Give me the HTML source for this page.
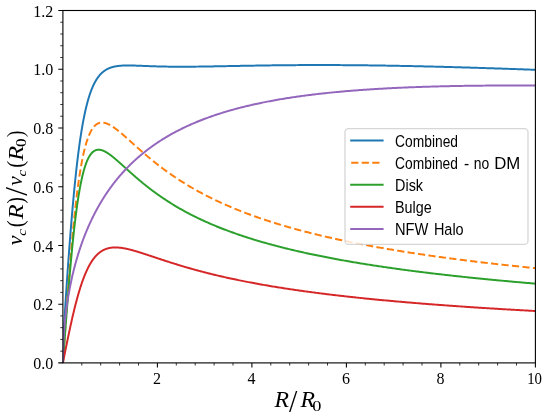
<!DOCTYPE html><html><head><meta charset="utf-8"><style>html,body{margin:0;padding:0;background:#fff;overflow:hidden}svg{display:block}</style></head><body><svg width="550" height="418" viewBox="0 0 550 418">
<rect width="550" height="418" fill="#fff"/>
<defs><clipPath id="c"><rect x="62.9" y="10.5" width="472.5" height="352.4"/></clipPath></defs>
<g clip-path="url(#c)" fill="none" stroke-width="1.98" stroke-linecap="square" stroke-linejoin="round">
<polyline points="62.90,362.89 62.90,360.90 62.97,355.40 63.03,352.41 63.09,350.05 63.15,348.00 63.21,346.16 63.27,344.46 63.33,342.87 63.39,341.36 63.45,339.92 63.51,338.53 63.57,337.19 63.63,335.89 63.69,334.62 63.75,333.38 63.81,332.16 63.87,330.97 63.93,329.80 63.99,328.65 64.05,327.52 64.11,326.40 64.17,325.29 64.23,324.20 64.30,323.11 64.36,322.04 64.42,320.98 64.48,319.93 64.54,318.89 64.60,317.85 64.66,316.82 64.72,315.80 64.78,314.79 64.84,313.78 64.90,312.78 64.96,311.79 65.02,310.79 65.08,309.81 65.14,308.83 65.20,307.85 65.26,306.88 65.49,303.21 65.72,299.60 65.96,296.04 66.19,292.51 66.42,289.03 66.65,285.59 66.88,282.18 67.11,278.81 67.34,275.46 67.57,272.15 67.80,268.88 68.03,265.63 68.26,262.41 68.50,259.22 68.73,256.06 68.96,252.94 69.19,249.84 69.42,246.77 69.65,243.74 69.88,240.73 70.11,237.76 70.34,234.81 70.57,231.90 70.80,229.02 71.04,226.17 71.27,223.36 71.50,220.57 71.73,217.82 71.96,215.10 72.19,212.41 72.42,209.76 72.65,207.13 72.88,204.54 73.11,201.99 73.34,199.47 73.58,196.98 73.81,194.52 74.04,192.10 74.27,189.71 74.50,187.35 74.73,185.03 74.96,182.74 75.19,180.49 75.42,178.26 75.65,176.07 75.88,173.92 76.12,171.79 76.35,169.70 76.58,167.64 76.81,165.61 77.04,163.62 77.27,161.65 77.50,159.72 77.73,157.82 77.96,155.95 78.19,154.11 78.42,152.31 78.66,150.53 78.89,148.78 79.12,147.06 79.35,145.38 79.58,143.72 79.81,142.09 80.04,140.49 80.27,138.91 80.50,137.37 80.73,135.85 80.97,134.36 81.20,132.90 81.43,131.46 81.66,130.05 81.89,128.67 82.12,127.31 82.35,125.98 82.58,124.67 82.81,123.38 83.04,122.13 83.27,120.89 83.51,119.68 83.74,118.49 83.97,117.32 84.20,116.18 84.43,115.06 84.66,113.96 84.89,112.88 85.12,111.82 85.35,110.79 85.58,109.77 85.81,108.78 86.05,107.80 86.28,106.84 86.51,105.91 86.74,104.99 86.97,104.09 87.20,103.21 87.43,102.34 87.66,101.50 87.89,100.67 88.12,99.86 88.35,99.06 88.59,98.28 88.82,97.52 89.05,96.77 89.28,96.04 89.51,95.32 89.74,94.62 89.97,93.93 90.20,93.26 90.43,92.60 90.66,91.96 90.89,91.32 91.13,90.71 91.36,90.10 91.59,89.51 91.82,88.93 92.05,88.36 92.28,87.81 92.51,87.26 92.74,86.73 92.97,86.21 93.20,85.70 93.43,85.20 93.67,84.72 93.90,84.24 94.13,83.77 94.36,83.32 94.59,82.87 94.82,82.44 95.05,82.01 95.28,81.59 95.51,81.18 95.74,80.78 95.97,80.39 96.21,80.01 96.44,79.64 96.67,79.27 96.90,78.92 97.13,78.57 97.36,78.22 97.59,77.89 97.82,77.57 98.05,77.25 98.28,76.94 98.52,76.63 98.75,76.33 98.98,76.04 99.21,75.76 99.44,75.48 99.67,75.21 99.90,74.94 100.13,74.69 100.36,74.43 100.59,74.19 100.82,73.94 101.06,73.71 101.29,73.48 101.52,73.25 101.75,73.03 101.98,72.82 102.21,72.61 102.44,72.41 102.67,72.21 102.90,72.01 103.13,71.82 103.36,71.64 103.60,71.45 103.83,71.28 104.06,71.11 104.29,70.94 104.52,70.77 104.75,70.61 104.98,70.46 105.21,70.30 105.44,70.16 105.67,70.01 105.90,69.87 106.14,69.73 106.37,69.60 106.60,69.47 106.83,69.34 107.06,69.21 107.29,69.09 107.52,68.98 107.75,68.86 107.98,68.75 108.21,68.64 108.44,68.53 108.68,68.43 108.91,68.33 109.14,68.23 109.37,68.13 109.60,68.04 109.83,67.95 110.06,67.86 110.29,67.78 110.52,67.69 110.75,67.61 110.98,67.53 111.22,67.46 111.45,67.38 111.68,67.31 111.91,67.24 112.14,67.17 112.37,67.11 112.60,67.04 112.83,66.98 113.06,66.92 113.29,66.86 113.53,66.80 113.76,66.75 113.99,66.69 114.22,66.64 114.45,66.59 114.68,66.54 114.91,66.50 115.14,66.45 115.37,66.40 115.60,66.36 115.83,66.32 116.07,66.28 116.30,66.24 116.53,66.20 116.76,66.17 116.99,66.13 117.22,66.10 117.45,66.07 117.68,66.03 117.91,66.00 118.14,65.98 118.37,65.95 118.61,65.92 118.84,65.89 119.07,65.87 119.30,65.85 119.53,65.82 119.76,65.80 119.99,65.78 120.22,65.76 120.45,65.74 120.68,65.72 120.91,65.70 121.15,65.69 121.38,65.67 121.61,65.65 121.84,65.64 122.07,65.63 122.30,65.61 122.53,65.60 122.76,65.59 122.99,65.58 123.22,65.57 123.45,65.56 123.69,65.55 123.92,65.54 124.15,65.53 124.38,65.52 124.61,65.52 124.84,65.51 125.07,65.51 125.30,65.50 125.53,65.50 125.76,65.49 125.99,65.49 126.23,65.48 126.46,65.48 126.69,65.48 126.92,65.48 127.15,65.48 127.38,65.47 127.61,65.47 127.84,65.47 128.07,65.47 128.30,65.47 128.53,65.47 128.77,65.48 129.00,65.48 129.23,65.48 129.46,65.48 129.69,65.48 129.92,65.48 130.15,65.49 130.38,65.49 130.61,65.49 130.84,65.50 131.08,65.50 131.31,65.51 131.54,65.51 131.77,65.51 132.00,65.52 132.23,65.52 132.46,65.53 132.69,65.54 132.92,65.54 133.15,65.55 133.38,65.55 133.62,65.56 133.85,65.57 134.08,65.57 134.31,65.58 134.54,65.59 134.77,65.59 135.00,65.60 135.23,65.61 135.46,65.61 135.69,65.62 135.92,65.63 136.16,65.64 136.39,65.64 136.62,65.65 136.85,65.66 137.08,65.67 137.31,65.68 137.54,65.68 137.77,65.69 138.00,65.70 138.23,65.71 138.46,65.72 138.70,65.73 138.93,65.74 139.16,65.74 139.39,65.75 139.62,65.76 139.85,65.77 140.08,65.78 140.31,65.79 140.54,65.80 140.77,65.81 141.00,65.82 141.24,65.82 141.47,65.83 141.70,65.84 141.93,65.85 142.16,65.86 142.39,65.87 142.62,65.88 142.85,65.89 143.08,65.90 143.31,65.91 143.54,65.92 143.78,65.93 144.01,65.93 144.24,65.94 144.47,65.95 144.70,65.96 144.93,65.97 145.16,65.98 145.39,65.99 145.62,66.00 145.85,66.01 146.08,66.02 146.32,66.03 146.55,66.03 146.78,66.04 147.01,66.05 147.24,66.06 147.47,66.07 147.70,66.08 147.93,66.09 148.16,66.10 148.39,66.10 148.62,66.11 148.86,66.12 149.09,66.13 149.32,66.14 149.55,66.15 149.78,66.16 150.01,66.16 150.24,66.17 150.47,66.18 150.70,66.19 150.93,66.20 151.17,66.21 151.40,66.21 151.63,66.22 151.86,66.23 152.09,66.24 152.32,66.25 152.55,66.25 152.78,66.26 153.01,66.27 153.24,66.28 153.47,66.28 153.71,66.29 153.94,66.30 154.17,66.31 154.40,66.31 154.63,66.32 154.86,66.33 155.09,66.34 155.32,66.34 155.55,66.35 155.78,66.36 156.01,66.36 156.25,66.37 156.48,66.38 156.71,66.38 156.94,66.39 157.17,66.40 157.40,66.40 158.66,66.44 159.93,66.47 161.19,66.50 162.46,66.53 163.72,66.56 164.99,66.58 166.25,66.60 167.51,66.62 168.78,66.64 170.04,66.66 171.31,66.67 172.57,66.69 173.83,66.70 175.10,66.71 176.36,66.71 177.63,66.72 178.89,66.72 180.16,66.72 181.42,66.72 182.68,66.72 183.95,66.72 185.21,66.72 186.48,66.71 187.74,66.71 189.01,66.70 190.27,66.69 191.53,66.68 192.80,66.67 194.06,66.66 195.33,66.64 196.59,66.63 197.85,66.62 199.12,66.60 200.38,66.58 201.65,66.57 202.91,66.55 204.18,66.53 205.44,66.51 206.70,66.49 207.97,66.47 209.23,66.45 210.50,66.43 211.76,66.41 213.03,66.39 214.29,66.36 215.55,66.34 216.82,66.32 218.08,66.30 219.35,66.27 220.61,66.25 221.87,66.22 223.14,66.20 224.40,66.18 225.67,66.15 226.93,66.13 228.20,66.10 229.46,66.08 230.72,66.05 231.99,66.03 233.25,66.01 234.52,65.98 235.78,65.96 237.05,65.93 238.31,65.91 239.57,65.89 240.84,65.86 242.10,65.84 243.37,65.82 244.63,65.79 245.89,65.77 247.16,65.75 248.42,65.73 249.69,65.70 250.95,65.68 252.22,65.66 253.48,65.64 254.74,65.62 256.01,65.60 257.27,65.58 258.54,65.56 259.80,65.54 261.07,65.52 262.33,65.50 263.59,65.48 264.86,65.46 266.12,65.44 267.39,65.42 268.65,65.41 269.92,65.39 271.18,65.37 272.44,65.36 273.71,65.34 274.97,65.33 276.24,65.31 277.50,65.30 278.76,65.28 280.03,65.27 281.29,65.25 282.56,65.24 283.82,65.23 285.09,65.22 286.35,65.21 287.61,65.19 288.88,65.18 290.14,65.17 291.41,65.16 292.67,65.15 293.94,65.14 295.20,65.14 296.46,65.13 297.73,65.12 298.99,65.11 300.26,65.11 301.52,65.10 302.78,65.09 304.05,65.09 305.31,65.08 306.58,65.08 307.84,65.07 309.11,65.07 310.37,65.07 311.63,65.07 312.90,65.06 314.16,65.06 315.43,65.06 316.69,65.06 317.96,65.06 319.22,65.06 320.48,65.06 321.75,65.06 323.01,65.06 324.28,65.06 325.54,65.06 326.80,65.07 328.07,65.07 329.33,65.07 330.60,65.08 331.86,65.08 333.13,65.08 334.39,65.09 335.65,65.09 336.92,65.10 338.18,65.11 339.45,65.11 340.71,65.12 341.98,65.13 343.24,65.14 344.50,65.14 345.77,65.15 347.03,65.16 348.30,65.17 349.56,65.18 350.82,65.19 352.09,65.20 353.35,65.21 354.62,65.22 355.88,65.24 357.15,65.25 358.41,65.26 359.67,65.27 360.94,65.29 362.20,65.30 363.47,65.32 364.73,65.33 366.00,65.34 367.26,65.36 368.52,65.38 369.79,65.39 371.05,65.41 372.32,65.42 373.58,65.44 374.84,65.46 376.11,65.48 377.37,65.49 378.64,65.51 379.90,65.53 381.17,65.55 382.43,65.57 383.69,65.59 384.96,65.61 386.22,65.63 387.49,65.65 388.75,65.67 390.02,65.69 391.28,65.72 392.54,65.74 393.81,65.76 395.07,65.78 396.34,65.81 397.60,65.83 398.86,65.85 400.13,65.88 401.39,65.90 402.66,65.93 403.92,65.95 405.19,65.98 406.45,66.00 407.71,66.03 408.98,66.05 410.24,66.08 411.51,66.11 412.77,66.13 414.04,66.16 415.30,66.19 416.56,66.22 417.83,66.24 419.09,66.27 420.36,66.30 421.62,66.33 422.88,66.36 424.15,66.39 425.41,66.42 426.68,66.45 427.94,66.48 429.21,66.51 430.47,66.54 431.73,66.57 433.00,66.60 434.26,66.63 435.53,66.67 436.79,66.70 438.06,66.73 439.32,66.76 440.58,66.80 441.85,66.83 443.11,66.86 444.38,66.89 445.64,66.93 446.91,66.96 448.17,67.00 449.43,67.03 450.70,67.07 451.96,67.10 453.23,67.13 454.49,67.17 455.75,67.21 457.02,67.24 458.28,67.28 459.55,67.31 460.81,67.35 462.08,67.39 463.34,67.42 464.60,67.46 465.87,67.50 467.13,67.53 468.40,67.57 469.66,67.61 470.93,67.65 472.19,67.69 473.45,67.72 474.72,67.76 475.98,67.80 477.25,67.84 478.51,67.88 479.77,67.92 481.04,67.96 482.30,68.00 483.57,68.04 484.83,68.08 486.10,68.12 487.36,68.16 488.62,68.20 489.89,68.24 491.15,68.28 492.42,68.32 493.68,68.36 494.95,68.40 496.21,68.44 497.47,68.49 498.74,68.53 500.00,68.57 501.27,68.61 502.53,68.65 503.79,68.70 505.06,68.74 506.32,68.78 507.59,68.82 508.85,68.87 510.12,68.91 511.38,68.95 512.64,69.00 513.91,69.04 515.17,69.08 516.44,69.13 517.70,69.17 518.97,69.22 520.23,69.26 521.49,69.31 522.76,69.35 524.02,69.39 525.29,69.44 526.55,69.48 527.81,69.53 529.08,69.58 530.34,69.62 531.61,69.67 532.87,69.71 534.14,69.76 535.40,69.80" stroke="#1f77b4"/>
<polyline points="62.90,362.90 62.90,362.83 62.97,361.95 63.03,361.08 63.09,360.20 63.15,359.32 63.21,358.45 63.27,357.57 63.33,356.69 63.39,355.82 63.45,354.94 63.51,354.07 63.57,353.19 63.63,352.31 63.69,351.44 63.75,350.56 63.81,349.69 63.87,348.82 63.93,347.94 63.99,347.07 64.05,346.19 64.11,345.32 64.17,344.45 64.23,343.58 64.30,342.71 64.36,341.83 64.42,340.96 64.48,340.09 64.54,339.22 64.60,338.36 64.66,337.49 64.72,336.62 64.78,335.75 64.84,334.89 64.90,334.02 64.96,333.15 65.02,332.29 65.08,331.43 65.14,330.56 65.20,329.70 65.26,328.84 65.49,325.56 65.72,322.29 65.96,319.03 66.19,315.79 66.42,312.57 66.65,309.36 66.88,306.17 67.11,303.00 67.34,299.85 67.57,296.72 67.80,293.61 68.03,290.52 68.26,287.46 68.50,284.42 68.73,281.41 68.96,278.42 69.19,275.46 69.42,272.52 69.65,269.62 69.88,266.74 70.11,263.89 70.34,261.07 70.57,258.28 70.80,255.52 71.04,252.79 71.27,250.09 71.50,247.43 71.73,244.79 71.96,242.19 72.19,239.62 72.42,237.09 72.65,234.58 72.88,232.11 73.11,229.68 73.34,227.28 73.58,224.91 73.81,222.57 74.04,220.28 74.27,218.01 74.50,215.78 74.73,213.58 74.96,211.42 75.19,209.29 75.42,207.19 75.65,205.13 75.88,203.11 76.12,201.11 76.35,199.15 76.58,197.23 76.81,195.34 77.04,193.48 77.27,191.65 77.50,189.86 77.73,188.10 77.96,186.37 78.19,184.67 78.42,183.01 78.66,181.38 78.89,179.77 79.12,178.20 79.35,176.66 79.58,175.15 79.81,173.67 80.04,172.22 80.27,170.80 80.50,169.41 80.73,168.05 80.97,166.72 81.20,165.41 81.43,164.13 81.66,162.88 81.89,161.66 82.12,160.46 82.35,159.29 82.58,158.15 82.81,157.03 83.04,155.93 83.27,154.86 83.51,153.82 83.74,152.80 83.97,151.80 84.20,150.83 84.43,149.88 84.66,148.95 84.89,148.05 85.12,147.17 85.35,146.30 85.58,145.46 85.81,144.65 86.05,143.85 86.28,143.07 86.51,142.31 86.74,141.57 86.97,140.86 87.20,140.16 87.43,139.47 87.66,138.81 87.89,138.17 88.12,137.54 88.35,136.93 88.59,136.34 88.82,135.76 89.05,135.20 89.28,134.66 89.51,134.13 89.74,133.62 89.97,133.12 90.20,132.64 90.43,132.17 90.66,131.72 90.89,131.28 91.13,130.86 91.36,130.45 91.59,130.05 91.82,129.67 92.05,129.29 92.28,128.94 92.51,128.59 92.74,128.26 92.97,127.93 93.20,127.62 93.43,127.32 93.67,127.04 93.90,126.76 94.13,126.49 94.36,126.24 94.59,125.99 94.82,125.76 95.05,125.53 95.28,125.32 95.51,125.11 95.74,124.92 95.97,124.73 96.21,124.55 96.44,124.39 96.67,124.23 96.90,124.07 97.13,123.93 97.36,123.80 97.59,123.67 97.82,123.55 98.05,123.44 98.28,123.33 98.52,123.24 98.75,123.15 98.98,123.07 99.21,122.99 99.44,122.92 99.67,122.86 99.90,122.80 100.13,122.76 100.36,122.71 100.59,122.68 100.82,122.64 101.06,122.62 101.29,122.60 101.52,122.59 101.75,122.58 101.98,122.58 102.21,122.58 102.44,122.58 102.67,122.60 102.90,122.61 103.13,122.64 103.36,122.66 103.60,122.70 103.83,122.73 104.06,122.77 104.29,122.82 104.52,122.87 104.75,122.92 104.98,122.98 105.21,123.04 105.44,123.10 105.67,123.17 105.90,123.24 106.14,123.32 106.37,123.40 106.60,123.48 106.83,123.57 107.06,123.66 107.29,123.75 107.52,123.85 107.75,123.95 107.98,124.05 108.21,124.16 108.44,124.27 108.68,124.38 108.91,124.49 109.14,124.61 109.37,124.73 109.60,124.85 109.83,124.97 110.06,125.10 110.29,125.23 110.52,125.36 110.75,125.49 110.98,125.63 111.22,125.77 111.45,125.91 111.68,126.05 111.91,126.20 112.14,126.34 112.37,126.49 112.60,126.64 112.83,126.79 113.06,126.95 113.29,127.10 113.53,127.26 113.76,127.42 113.99,127.58 114.22,127.74 114.45,127.91 114.68,128.07 114.91,128.24 115.14,128.41 115.37,128.58 115.60,128.75 115.83,128.92 116.07,129.09 116.30,129.27 116.53,129.44 116.76,129.62 116.99,129.80 117.22,129.98 117.45,130.16 117.68,130.34 117.91,130.52 118.14,130.71 118.37,130.89 118.61,131.08 118.84,131.27 119.07,131.45 119.30,131.64 119.53,131.83 119.76,132.02 119.99,132.21 120.22,132.40 120.45,132.59 120.68,132.79 120.91,132.98 121.15,133.18 121.38,133.37 121.61,133.57 121.84,133.76 122.07,133.96 122.30,134.16 122.53,134.35 122.76,134.55 122.99,134.75 123.22,134.95 123.45,135.15 123.69,135.35 123.92,135.55 124.15,135.75 124.38,135.96 124.61,136.16 124.84,136.36 125.07,136.56 125.30,136.77 125.53,136.97 125.76,137.17 125.99,137.38 126.23,137.58 126.46,137.79 126.69,137.99 126.92,138.19 127.15,138.40 127.38,138.61 127.61,138.81 127.84,139.02 128.07,139.22 128.30,139.43 128.53,139.64 128.77,139.84 129.00,140.05 129.23,140.26 129.46,140.46 129.69,140.67 129.92,140.88 130.15,141.08 130.38,141.29 130.61,141.50 130.84,141.70 131.08,141.91 131.31,142.12 131.54,142.33 131.77,142.53 132.00,142.74 132.23,142.95 132.46,143.15 132.69,143.36 132.92,143.57 133.15,143.78 133.38,143.98 133.62,144.19 133.85,144.40 134.08,144.60 134.31,144.81 134.54,145.02 134.77,145.22 135.00,145.43 135.23,145.64 135.46,145.84 135.69,146.05 135.92,146.26 136.16,146.46 136.39,146.67 136.62,146.87 136.85,147.08 137.08,147.28 137.31,147.49 137.54,147.69 137.77,147.90 138.00,148.10 138.23,148.31 138.46,148.51 138.70,148.72 138.93,148.92 139.16,149.12 139.39,149.33 139.62,149.53 139.85,149.73 140.08,149.94 140.31,150.14 140.54,150.34 140.77,150.55 141.00,150.75 141.24,150.95 141.47,151.15 141.70,151.35 141.93,151.55 142.16,151.75 142.39,151.96 142.62,152.16 142.85,152.36 143.08,152.56 143.31,152.76 143.54,152.95 143.78,153.15 144.01,153.35 144.24,153.55 144.47,153.75 144.70,153.95 144.93,154.15 145.16,154.34 145.39,154.54 145.62,154.74 145.85,154.93 146.08,155.13 146.32,155.33 146.55,155.52 146.78,155.72 147.01,155.91 147.24,156.11 147.47,156.30 147.70,156.50 147.93,156.69 148.16,156.88 148.39,157.08 148.62,157.27 148.86,157.46 149.09,157.66 149.32,157.85 149.55,158.04 149.78,158.23 150.01,158.42 150.24,158.61 150.47,158.80 150.70,158.99 150.93,159.18 151.17,159.37 151.40,159.56 151.63,159.75 151.86,159.94 152.09,160.13 152.32,160.32 152.55,160.50 152.78,160.69 153.01,160.88 153.24,161.07 153.47,161.25 153.71,161.44 153.94,161.62 154.17,161.81 154.40,161.99 154.63,162.18 154.86,162.36 155.09,162.55 155.32,162.73 155.55,162.91 155.78,163.10 156.01,163.28 156.25,163.46 156.48,163.65 156.71,163.83 156.94,164.01 157.17,164.19 157.40,164.37 158.66,165.35 159.93,166.33 161.19,167.29 162.46,168.24 163.72,169.19 164.99,170.12 166.25,171.04 167.51,171.96 168.78,172.86 170.04,173.75 171.31,174.64 172.57,175.51 173.83,176.37 175.10,177.23 176.36,178.07 177.63,178.91 178.89,179.74 180.16,180.55 181.42,181.36 182.68,182.16 183.95,182.95 185.21,183.73 186.48,184.51 187.74,185.27 189.01,186.03 190.27,186.78 191.53,187.52 192.80,188.25 194.06,188.98 195.33,189.69 196.59,190.40 197.85,191.10 199.12,191.80 200.38,192.48 201.65,193.16 202.91,193.84 204.18,194.50 205.44,195.16 206.70,195.81 207.97,196.45 209.23,197.09 210.50,197.72 211.76,198.35 213.03,198.97 214.29,199.58 215.55,200.18 216.82,200.78 218.08,201.38 219.35,201.97 220.61,202.55 221.87,203.12 223.14,203.69 224.40,204.26 225.67,204.82 226.93,205.37 228.20,205.92 229.46,206.46 230.72,207.00 231.99,207.54 233.25,208.06 234.52,208.59 235.78,209.10 237.05,209.62 238.31,210.13 239.57,210.63 240.84,211.13 242.10,211.62 243.37,212.11 244.63,212.60 245.89,213.08 247.16,213.56 248.42,214.03 249.69,214.50 250.95,214.96 252.22,215.42 253.48,215.88 254.74,216.33 256.01,216.78 257.27,217.22 258.54,217.66 259.80,218.10 261.07,218.53 262.33,218.96 263.59,219.39 264.86,219.81 266.12,220.23 267.39,220.64 268.65,221.06 269.92,221.46 271.18,221.87 272.44,222.27 273.71,222.67 274.97,223.06 276.24,223.46 277.50,223.85 278.76,224.23 280.03,224.61 281.29,224.99 282.56,225.37 283.82,225.74 285.09,226.11 286.35,226.48 287.61,226.85 288.88,227.21 290.14,227.57 291.41,227.93 292.67,228.28 293.94,228.63 295.20,228.98 296.46,229.33 297.73,229.67 298.99,230.01 300.26,230.35 301.52,230.68 302.78,231.02 304.05,231.35 305.31,231.68 306.58,232.00 307.84,232.33 309.11,232.65 310.37,232.97 311.63,233.29 312.90,233.60 314.16,233.91 315.43,234.22 316.69,234.53 317.96,234.84 319.22,235.14 320.48,235.44 321.75,235.74 323.01,236.04 324.28,236.34 325.54,236.63 326.80,236.92 328.07,237.21 329.33,237.50 330.60,237.79 331.86,238.07 333.13,238.35 334.39,238.63 335.65,238.91 336.92,239.19 338.18,239.46 339.45,239.74 340.71,240.01 341.98,240.28 343.24,240.54 344.50,240.81 345.77,241.07 347.03,241.34 348.30,241.60 349.56,241.86 350.82,242.12 352.09,242.37 353.35,242.63 354.62,242.88 355.88,243.13 357.15,243.38 358.41,243.63 359.67,243.88 360.94,244.12 362.20,244.37 363.47,244.61 364.73,244.85 366.00,245.09 367.26,245.33 368.52,245.56 369.79,245.80 371.05,246.03 372.32,246.27 373.58,246.50 374.84,246.73 376.11,246.96 377.37,247.18 378.64,247.41 379.90,247.63 381.17,247.86 382.43,248.08 383.69,248.30 384.96,248.52 386.22,248.74 387.49,248.96 388.75,249.17 390.02,249.39 391.28,249.60 392.54,249.81 393.81,250.02 395.07,250.23 396.34,250.44 397.60,250.65 398.86,250.86 400.13,251.06 401.39,251.27 402.66,251.47 403.92,251.67 405.19,251.87 406.45,252.07 407.71,252.27 408.98,252.47 410.24,252.67 411.51,252.86 412.77,253.06 414.04,253.25 415.30,253.44 416.56,253.64 417.83,253.83 419.09,254.02 420.36,254.21 421.62,254.39 422.88,254.58 424.15,254.77 425.41,254.95 426.68,255.13 427.94,255.32 429.21,255.50 430.47,255.68 431.73,255.86 433.00,256.04 434.26,256.22 435.53,256.40 436.79,256.58 438.06,256.75 439.32,256.93 440.58,257.10 441.85,257.27 443.11,257.45 444.38,257.62 445.64,257.79 446.91,257.96 448.17,258.13 449.43,258.30 450.70,258.47 451.96,258.63 453.23,258.80 454.49,258.96 455.75,259.13 457.02,259.29 458.28,259.46 459.55,259.62 460.81,259.78 462.08,259.94 463.34,260.10 464.60,260.26 465.87,260.42 467.13,260.58 468.40,260.73 469.66,260.89 470.93,261.04 472.19,261.20 473.45,261.35 474.72,261.51 475.98,261.66 477.25,261.81 478.51,261.96 479.77,262.12 481.04,262.27 482.30,262.42 483.57,262.56 484.83,262.71 486.10,262.86 487.36,263.01 488.62,263.15 489.89,263.30 491.15,263.44 492.42,263.59 493.68,263.73 494.95,263.88 496.21,264.02 497.47,264.16 498.74,264.30 500.00,264.44 501.27,264.58 502.53,264.72 503.79,264.86 505.06,265.00 506.32,265.14 507.59,265.27 508.85,265.41 510.12,265.55 511.38,265.68 512.64,265.82 513.91,265.95 515.17,266.09 516.44,266.22 517.70,266.35 518.97,266.48 520.23,266.62 521.49,266.75 522.76,266.88 524.02,267.01 525.29,267.14 526.55,267.27 527.81,267.40 529.08,267.52 530.34,267.65 531.61,267.78 532.87,267.90 534.14,268.03 535.40,268.16" stroke="#ff7f0e" stroke-dasharray="7.2,3.325" stroke-dashoffset="2.325" stroke-linecap="butt"/>
<polyline points="62.90,362.90 62.90,362.84 62.97,362.01 63.03,361.19 63.09,360.37 63.15,359.54 63.21,358.72 63.27,357.90 63.33,357.08 63.39,356.26 63.45,355.43 63.51,354.61 63.57,353.79 63.63,352.97 63.69,352.15 63.75,351.33 63.81,350.51 63.87,349.69 63.93,348.87 63.99,348.05 64.05,347.23 64.11,346.41 64.17,345.59 64.23,344.77 64.30,343.96 64.36,343.14 64.42,342.32 64.48,341.51 64.54,340.69 64.60,339.88 64.66,339.06 64.72,338.25 64.78,337.44 64.84,336.62 64.90,335.81 64.96,335.00 65.02,334.19 65.08,333.38 65.14,332.57 65.20,331.77 65.26,330.96 65.49,327.88 65.72,324.82 65.96,321.77 66.19,318.74 66.42,315.72 66.65,312.72 66.88,309.74 67.11,306.77 67.34,303.83 67.57,300.91 67.80,298.01 68.03,295.13 68.26,292.27 68.50,289.44 68.73,286.64 68.96,283.85 69.19,281.10 69.42,278.37 69.65,275.67 69.88,273.00 70.11,270.36 70.34,267.75 70.57,265.16 70.80,262.61 71.04,260.09 71.27,257.60 71.50,255.14 71.73,252.71 71.96,250.32 72.19,247.95 72.42,245.62 72.65,243.33 72.88,241.06 73.11,238.83 73.34,236.64 73.58,234.47 73.81,232.34 74.04,230.25 74.27,228.19 74.50,226.16 74.73,224.17 74.96,222.21 75.19,220.28 75.42,218.39 75.65,216.53 75.88,214.70 76.12,212.91 76.35,211.15 76.58,209.43 76.81,207.73 77.04,206.07 77.27,204.45 77.50,202.85 77.73,201.29 77.96,199.75 78.19,198.25 78.42,196.78 78.66,195.34 78.89,193.94 79.12,192.56 79.35,191.21 79.58,189.89 79.81,188.60 80.04,187.34 80.27,186.11 80.50,184.91 80.73,183.73 80.97,182.58 81.20,181.46 81.43,180.37 81.66,179.30 81.89,178.26 82.12,177.24 82.35,176.25 82.58,175.29 82.81,174.35 83.04,173.43 83.27,172.54 83.51,171.67 83.74,170.82 83.97,170.00 84.20,169.19 84.43,168.41 84.66,167.66 84.89,166.92 85.12,166.20 85.35,165.51 85.58,164.83 85.81,164.18 86.05,163.54 86.28,162.92 86.51,162.32 86.74,161.74 86.97,161.18 87.20,160.64 87.43,160.11 87.66,159.60 87.89,159.11 88.12,158.63 88.35,158.17 88.59,157.72 88.82,157.29 89.05,156.88 89.28,156.48 89.51,156.09 89.74,155.72 89.97,155.36 90.20,155.02 90.43,154.69 90.66,154.37 90.89,154.07 91.13,153.78 91.36,153.50 91.59,153.23 91.82,152.98 92.05,152.73 92.28,152.50 92.51,152.28 92.74,152.07 92.97,151.87 93.20,151.68 93.43,151.50 93.67,151.33 93.90,151.17 94.13,151.02 94.36,150.88 94.59,150.75 94.82,150.62 95.05,150.51 95.28,150.40 95.51,150.30 95.74,150.21 95.97,150.13 96.21,150.06 96.44,149.99 96.67,149.93 96.90,149.88 97.13,149.84 97.36,149.80 97.59,149.77 97.82,149.74 98.05,149.73 98.28,149.72 98.52,149.71 98.75,149.71 98.98,149.72 99.21,149.73 99.44,149.75 99.67,149.77 99.90,149.80 100.13,149.83 100.36,149.87 100.59,149.91 100.82,149.96 101.06,150.02 101.29,150.07 101.52,150.14 101.75,150.20 101.98,150.27 102.21,150.35 102.44,150.43 102.67,150.51 102.90,150.60 103.13,150.69 103.36,150.78 103.60,150.88 103.83,150.98 104.06,151.09 104.29,151.20 104.52,151.31 104.75,151.42 104.98,151.54 105.21,151.66 105.44,151.79 105.67,151.91 105.90,152.04 106.14,152.17 106.37,152.31 106.60,152.45 106.83,152.59 107.06,152.73 107.29,152.87 107.52,153.02 107.75,153.17 107.98,153.32 108.21,153.47 108.44,153.63 108.68,153.79 108.91,153.94 109.14,154.11 109.37,154.27 109.60,154.43 109.83,154.60 110.06,154.77 110.29,154.94 110.52,155.11 110.75,155.28 110.98,155.46 111.22,155.63 111.45,155.81 111.68,155.99 111.91,156.17 112.14,156.35 112.37,156.53 112.60,156.72 112.83,156.90 113.06,157.09 113.29,157.27 113.53,157.46 113.76,157.65 113.99,157.84 114.22,158.03 114.45,158.22 114.68,158.42 114.91,158.61 115.14,158.80 115.37,159.00 115.60,159.19 115.83,159.39 116.07,159.59 116.30,159.79 116.53,159.99 116.76,160.19 116.99,160.39 117.22,160.59 117.45,160.79 117.68,160.99 117.91,161.19 118.14,161.39 118.37,161.60 118.61,161.80 118.84,162.00 119.07,162.21 119.30,162.41 119.53,162.62 119.76,162.82 119.99,163.03 120.22,163.23 120.45,163.44 120.68,163.65 120.91,163.85 121.15,164.06 121.38,164.27 121.61,164.48 121.84,164.68 122.07,164.89 122.30,165.10 122.53,165.31 122.76,165.51 122.99,165.72 123.22,165.93 123.45,166.14 123.69,166.35 123.92,166.56 124.15,166.77 124.38,166.97 124.61,167.18 124.84,167.39 125.07,167.60 125.30,167.81 125.53,168.02 125.76,168.23 125.99,168.43 126.23,168.64 126.46,168.85 126.69,169.06 126.92,169.27 127.15,169.48 127.38,169.68 127.61,169.89 127.84,170.10 128.07,170.31 128.30,170.51 128.53,170.72 128.77,170.93 129.00,171.14 129.23,171.34 129.46,171.55 129.69,171.76 129.92,171.96 130.15,172.17 130.38,172.38 130.61,172.58 130.84,172.79 131.08,172.99 131.31,173.20 131.54,173.40 131.77,173.61 132.00,173.81 132.23,174.01 132.46,174.22 132.69,174.42 132.92,174.63 133.15,174.83 133.38,175.03 133.62,175.23 133.85,175.44 134.08,175.64 134.31,175.84 134.54,176.04 134.77,176.24 135.00,176.44 135.23,176.64 135.46,176.85 135.69,177.05 135.92,177.24 136.16,177.44 136.39,177.64 136.62,177.84 136.85,178.04 137.08,178.24 137.31,178.44 137.54,178.63 137.77,178.83 138.00,179.03 138.23,179.22 138.46,179.42 138.70,179.62 138.93,179.81 139.16,180.01 139.39,180.20 139.62,180.39 139.85,180.59 140.08,180.78 140.31,180.98 140.54,181.17 140.77,181.36 141.00,181.55 141.24,181.74 141.47,181.94 141.70,182.13 141.93,182.32 142.16,182.51 142.39,182.70 142.62,182.89 142.85,183.08 143.08,183.27 143.31,183.45 143.54,183.64 143.78,183.83 144.01,184.02 144.24,184.20 144.47,184.39 144.70,184.58 144.93,184.76 145.16,184.95 145.39,185.13 145.62,185.32 145.85,185.50 146.08,185.69 146.32,185.87 146.55,186.05 146.78,186.24 147.01,186.42 147.24,186.60 147.47,186.78 147.70,186.96 147.93,187.14 148.16,187.32 148.39,187.50 148.62,187.68 148.86,187.86 149.09,188.04 149.32,188.22 149.55,188.40 149.78,188.58 150.01,188.75 150.24,188.93 150.47,189.11 150.70,189.28 150.93,189.46 151.17,189.63 151.40,189.81 151.63,189.98 151.86,190.16 152.09,190.33 152.32,190.51 152.55,190.68 152.78,190.85 153.01,191.02 153.24,191.20 153.47,191.37 153.71,191.54 153.94,191.71 154.17,191.88 154.40,192.05 154.63,192.22 154.86,192.39 155.09,192.56 155.32,192.73 155.55,192.89 155.78,193.06 156.01,193.23 156.25,193.40 156.48,193.56 156.71,193.73 156.94,193.89 157.17,194.06 157.40,194.23 158.66,195.12 159.93,196.01 161.19,196.88 162.46,197.75 163.72,198.60 164.99,199.44 166.25,200.27 167.51,201.10 168.78,201.91 170.04,202.71 171.31,203.50 172.57,204.28 173.83,205.05 175.10,205.81 176.36,206.57 177.63,207.31 178.89,208.04 180.16,208.77 181.42,209.48 182.68,210.19 183.95,210.89 185.21,211.58 186.48,212.26 187.74,212.94 189.01,213.60 190.27,214.26 191.53,214.91 192.80,215.55 194.06,216.19 195.33,216.81 196.59,217.43 197.85,218.05 199.12,218.65 200.38,219.25 201.65,219.85 202.91,220.43 204.18,221.01 205.44,221.58 206.70,222.15 207.97,222.71 209.23,223.26 210.50,223.81 211.76,224.35 213.03,224.89 214.29,225.42 215.55,225.94 216.82,226.46 218.08,226.98 219.35,227.48 220.61,227.99 221.87,228.48 223.14,228.98 224.40,229.46 225.67,229.95 226.93,230.42 228.20,230.90 229.46,231.37 230.72,231.83 231.99,232.29 233.25,232.74 234.52,233.19 235.78,233.64 237.05,234.08 238.31,234.51 239.57,234.95 240.84,235.37 242.10,235.80 243.37,236.22 244.63,236.63 245.89,237.05 247.16,237.45 248.42,237.86 249.69,238.26 250.95,238.66 252.22,239.05 253.48,239.44 254.74,239.83 256.01,240.21 257.27,240.59 258.54,240.97 259.80,241.34 261.07,241.71 262.33,242.08 263.59,242.44 264.86,242.80 266.12,243.16 267.39,243.51 268.65,243.86 269.92,244.21 271.18,244.55 272.44,244.90 273.71,245.24 274.97,245.57 276.24,245.91 277.50,246.24 278.76,246.56 280.03,246.89 281.29,247.21 282.56,247.53 283.82,247.85 285.09,248.17 286.35,248.48 287.61,248.79 288.88,249.10 290.14,249.40 291.41,249.71 292.67,250.01 293.94,250.30 295.20,250.60 296.46,250.89 297.73,251.19 298.99,251.47 300.26,251.76 301.52,252.05 302.78,252.33 304.05,252.61 305.31,252.89 306.58,253.17 307.84,253.44 309.11,253.71 310.37,253.98 311.63,254.25 312.90,254.52 314.16,254.78 315.43,255.05 316.69,255.31 317.96,255.57 319.22,255.82 320.48,256.08 321.75,256.33 323.01,256.59 324.28,256.84 325.54,257.08 326.80,257.33 328.07,257.58 329.33,257.82 330.60,258.06 331.86,258.30 333.13,258.54 334.39,258.78 335.65,259.01 336.92,259.25 338.18,259.48 339.45,259.71 340.71,259.94 341.98,260.17 343.24,260.39 344.50,260.62 345.77,260.84 347.03,261.06 348.30,261.28 349.56,261.50 350.82,261.72 352.09,261.94 353.35,262.15 354.62,262.37 355.88,262.58 357.15,262.79 358.41,263.00 359.67,263.21 360.94,263.41 362.20,263.62 363.47,263.82 364.73,264.03 366.00,264.23 367.26,264.43 368.52,264.63 369.79,264.83 371.05,265.03 372.32,265.22 373.58,265.42 374.84,265.61 376.11,265.80 377.37,266.00 378.64,266.19 379.90,266.38 381.17,266.56 382.43,266.75 383.69,266.94 384.96,267.12 386.22,267.31 387.49,267.49 388.75,267.67 390.02,267.85 391.28,268.03 392.54,268.21 393.81,268.39 395.07,268.57 396.34,268.74 397.60,268.92 398.86,269.09 400.13,269.26 401.39,269.44 402.66,269.61 403.92,269.78 405.19,269.95 406.45,270.11 407.71,270.28 408.98,270.45 410.24,270.61 411.51,270.78 412.77,270.94 414.04,271.11 415.30,271.27 416.56,271.43 417.83,271.59 419.09,271.75 420.36,271.91 421.62,272.07 422.88,272.23 424.15,272.38 425.41,272.54 426.68,272.69 427.94,272.85 429.21,273.00 430.47,273.15 431.73,273.30 433.00,273.45 434.26,273.61 435.53,273.75 436.79,273.90 438.06,274.05 439.32,274.20 440.58,274.35 441.85,274.49 443.11,274.64 444.38,274.78 445.64,274.92 446.91,275.07 448.17,275.21 449.43,275.35 450.70,275.49 451.96,275.63 453.23,275.77 454.49,275.91 455.75,276.05 457.02,276.19 458.28,276.32 459.55,276.46 460.81,276.60 462.08,276.73 463.34,276.87 464.60,277.00 465.87,277.13 467.13,277.27 468.40,277.40 469.66,277.53 470.93,277.66 472.19,277.79 473.45,277.92 474.72,278.05 475.98,278.18 477.25,278.31 478.51,278.43 479.77,278.56 481.04,278.69 482.30,278.81 483.57,278.94 484.83,279.06 486.10,279.19 487.36,279.31 488.62,279.43 489.89,279.55 491.15,279.68 492.42,279.80 493.68,279.92 494.95,280.04 496.21,280.16 497.47,280.28 498.74,280.40 500.00,280.51 501.27,280.63 502.53,280.75 503.79,280.87 505.06,280.98 506.32,281.10 507.59,281.21 508.85,281.33 510.12,281.44 511.38,281.56 512.64,281.67 513.91,281.78 515.17,281.89 516.44,282.01 517.70,282.12 518.97,282.23 520.23,282.34 521.49,282.45 522.76,282.56 524.02,282.67 525.29,282.78 526.55,282.89 527.81,282.99 529.08,283.10 530.34,283.21 531.61,283.31 532.87,283.42 534.14,283.53 535.40,283.63" stroke="#2ca02c"/>
<polyline points="62.90,362.90 62.90,362.88 62.97,362.57 63.03,362.27 63.09,361.97 63.15,361.66 63.21,361.36 63.27,361.06 63.33,360.75 63.39,360.45 63.45,360.15 63.51,359.84 63.57,359.54 63.63,359.24 63.69,358.93 63.75,358.63 63.81,358.33 63.87,358.02 63.93,357.72 63.99,357.42 64.05,357.11 64.11,356.81 64.17,356.51 64.23,356.21 64.30,355.90 64.36,355.60 64.42,355.30 64.48,355.00 64.54,354.69 64.60,354.39 64.66,354.09 64.72,353.79 64.78,353.49 64.84,353.19 64.90,352.88 64.96,352.58 65.02,352.28 65.08,351.98 65.14,351.68 65.20,351.38 65.26,351.08 65.49,349.93 65.72,348.78 65.96,347.64 66.19,346.50 66.42,345.36 66.65,344.23 66.88,343.10 67.11,341.97 67.34,340.85 67.57,339.72 67.80,338.61 68.03,337.50 68.26,336.39 68.50,335.28 68.73,334.18 68.96,333.09 69.19,332.00 69.42,330.91 69.65,329.84 69.88,328.76 70.11,327.69 70.34,326.63 70.57,325.57 70.80,324.52 71.04,323.48 71.27,322.44 71.50,321.41 71.73,320.38 71.96,319.36 72.19,318.35 72.42,317.34 72.65,316.34 72.88,315.35 73.11,314.37 73.34,313.39 73.58,312.42 73.81,311.46 74.04,310.50 74.27,309.55 74.50,308.61 74.73,307.68 74.96,306.76 75.19,305.84 75.42,304.93 75.65,304.03 75.88,303.14 76.12,302.25 76.35,301.38 76.58,300.51 76.81,299.65 77.04,298.80 77.27,297.95 77.50,297.12 77.73,296.29 77.96,295.47 78.19,294.66 78.42,293.86 78.66,293.07 78.89,292.28 79.12,291.51 79.35,290.74 79.58,289.98 79.81,289.23 80.04,288.49 80.27,287.76 80.50,287.03 80.73,286.32 80.97,285.61 81.20,284.91 81.43,284.22 81.66,283.53 81.89,282.86 82.12,282.19 82.35,281.54 82.58,280.89 82.81,280.25 83.04,279.62 83.27,278.99 83.51,278.37 83.74,277.77 83.97,277.17 84.20,276.58 84.43,275.99 84.66,275.42 84.89,274.85 85.12,274.29 85.35,273.74 85.58,273.19 85.81,272.66 86.05,272.13 86.28,271.61 86.51,271.09 86.74,270.59 86.97,270.09 87.20,269.60 87.43,269.12 87.66,268.64 87.89,268.17 88.12,267.71 88.35,267.26 88.59,266.81 88.82,266.37 89.05,265.94 89.28,265.51 89.51,265.09 89.74,264.68 89.97,264.27 90.20,263.87 90.43,263.48 90.66,263.09 90.89,262.71 91.13,262.34 91.36,261.97 91.59,261.61 91.82,261.26 92.05,260.91 92.28,260.57 92.51,260.23 92.74,259.90 92.97,259.58 93.20,259.26 93.43,258.95 93.67,258.64 93.90,258.34 94.13,258.05 94.36,257.76 94.59,257.47 94.82,257.19 95.05,256.92 95.28,256.65 95.51,256.39 95.74,256.13 95.97,255.88 96.21,255.63 96.44,255.38 96.67,255.15 96.90,254.91 97.13,254.68 97.36,254.46 97.59,254.24 97.82,254.03 98.05,253.82 98.28,253.61 98.52,253.41 98.75,253.21 98.98,253.02 99.21,252.83 99.44,252.65 99.67,252.47 99.90,252.29 100.13,252.12 100.36,251.96 100.59,251.79 100.82,251.63 101.06,251.48 101.29,251.32 101.52,251.18 101.75,251.03 101.98,250.89 102.21,250.75 102.44,250.62 102.67,250.49 102.90,250.36 103.13,250.24 103.36,250.12 103.60,250.00 103.83,249.88 104.06,249.77 104.29,249.67 104.52,249.56 104.75,249.46 104.98,249.36 105.21,249.27 105.44,249.17 105.67,249.08 105.90,249.00 106.14,248.91 106.37,248.83 106.60,248.75 106.83,248.68 107.06,248.61 107.29,248.53 107.52,248.47 107.75,248.40 107.98,248.34 108.21,248.28 108.44,248.22 108.68,248.16 108.91,248.11 109.14,248.06 109.37,248.01 109.60,247.96 109.83,247.92 110.06,247.88 110.29,247.84 110.52,247.80 110.75,247.76 110.98,247.73 111.22,247.70 111.45,247.67 111.68,247.64 111.91,247.61 112.14,247.59 112.37,247.57 112.60,247.55 112.83,247.53 113.06,247.51 113.29,247.50 113.53,247.48 113.76,247.47 113.99,247.46 114.22,247.45 114.45,247.45 114.68,247.44 114.91,247.44 115.14,247.44 115.37,247.44 115.60,247.44 115.83,247.44 116.07,247.44 116.30,247.45 116.53,247.46 116.76,247.46 116.99,247.47 117.22,247.48 117.45,247.50 117.68,247.51 117.91,247.52 118.14,247.54 118.37,247.56 118.61,247.58 118.84,247.60 119.07,247.62 119.30,247.64 119.53,247.66 119.76,247.68 119.99,247.71 120.22,247.74 120.45,247.76 120.68,247.79 120.91,247.82 121.15,247.85 121.38,247.88 121.61,247.91 121.84,247.95 122.07,247.98 122.30,248.02 122.53,248.05 122.76,248.09 122.99,248.13 123.22,248.17 123.45,248.21 123.69,248.25 123.92,248.29 124.15,248.33 124.38,248.37 124.61,248.41 124.84,248.46 125.07,248.50 125.30,248.55 125.53,248.60 125.76,248.64 125.99,248.69 126.23,248.74 126.46,248.79 126.69,248.84 126.92,248.89 127.15,248.94 127.38,248.99 127.61,249.04 127.84,249.10 128.07,249.15 128.30,249.20 128.53,249.26 128.77,249.31 129.00,249.37 129.23,249.42 129.46,249.48 129.69,249.54 129.92,249.60 130.15,249.65 130.38,249.71 130.61,249.77 130.84,249.83 131.08,249.89 131.31,249.95 131.54,250.01 131.77,250.07 132.00,250.14 132.23,250.20 132.46,250.26 132.69,250.32 132.92,250.39 133.15,250.45 133.38,250.52 133.62,250.58 133.85,250.65 134.08,250.71 134.31,250.78 134.54,250.84 134.77,250.91 135.00,250.98 135.23,251.04 135.46,251.11 135.69,251.18 135.92,251.25 136.16,251.31 136.39,251.38 136.62,251.45 136.85,251.52 137.08,251.59 137.31,251.66 137.54,251.73 137.77,251.80 138.00,251.87 138.23,251.94 138.46,252.01 138.70,252.08 138.93,252.15 139.16,252.22 139.39,252.29 139.62,252.37 139.85,252.44 140.08,252.51 140.31,252.58 140.54,252.65 140.77,252.73 141.00,252.80 141.24,252.87 141.47,252.95 141.70,253.02 141.93,253.09 142.16,253.17 142.39,253.24 142.62,253.32 142.85,253.39 143.08,253.46 143.31,253.54 143.54,253.61 143.78,253.69 144.01,253.76 144.24,253.84 144.47,253.91 144.70,253.99 144.93,254.06 145.16,254.14 145.39,254.21 145.62,254.29 145.85,254.36 146.08,254.44 146.32,254.51 146.55,254.59 146.78,254.67 147.01,254.74 147.24,254.82 147.47,254.89 147.70,254.97 147.93,255.05 148.16,255.12 148.39,255.20 148.62,255.28 148.86,255.35 149.09,255.43 149.32,255.51 149.55,255.58 149.78,255.66 150.01,255.74 150.24,255.81 150.47,255.89 150.70,255.97 150.93,256.04 151.17,256.12 151.40,256.20 151.63,256.27 151.86,256.35 152.09,256.43 152.32,256.50 152.55,256.58 152.78,256.66 153.01,256.73 153.24,256.81 153.47,256.89 153.71,256.97 153.94,257.04 154.17,257.12 154.40,257.20 154.63,257.27 154.86,257.35 155.09,257.43 155.32,257.50 155.55,257.58 155.78,257.66 156.01,257.73 156.25,257.81 156.48,257.89 156.71,257.97 156.94,258.04 157.17,258.12 157.40,258.20 158.66,258.62 159.93,259.03 161.19,259.45 162.46,259.87 163.72,260.28 164.99,260.69 166.25,261.10 167.51,261.51 168.78,261.92 170.04,262.32 171.31,262.73 172.57,263.13 173.83,263.52 175.10,263.92 176.36,264.31 177.63,264.70 178.89,265.08 180.16,265.47 181.42,265.85 182.68,266.22 183.95,266.60 185.21,266.97 186.48,267.34 187.74,267.71 189.01,268.07 190.27,268.43 191.53,268.79 192.80,269.14 194.06,269.49 195.33,269.84 196.59,270.19 197.85,270.53 199.12,270.87 200.38,271.21 201.65,271.54 202.91,271.88 204.18,272.20 205.44,272.53 206.70,272.85 207.97,273.17 209.23,273.49 210.50,273.81 211.76,274.12 213.03,274.43 214.29,274.74 215.55,275.04 216.82,275.34 218.08,275.64 219.35,275.94 220.61,276.23 221.87,276.52 223.14,276.81 224.40,277.10 225.67,277.38 226.93,277.66 228.20,277.94 229.46,278.22 230.72,278.50 231.99,278.77 233.25,279.04 234.52,279.31 235.78,279.57 237.05,279.83 238.31,280.10 239.57,280.36 240.84,280.61 242.10,280.87 243.37,281.12 244.63,281.37 245.89,281.62 247.16,281.87 248.42,282.11 249.69,282.35 250.95,282.59 252.22,282.83 253.48,283.07 254.74,283.30 256.01,283.54 257.27,283.77 258.54,284.00 259.80,284.22 261.07,284.45 262.33,284.67 263.59,284.90 264.86,285.12 266.12,285.34 267.39,285.55 268.65,285.77 269.92,285.98 271.18,286.19 272.44,286.40 273.71,286.61 274.97,286.82 276.24,287.03 277.50,287.23 278.76,287.43 280.03,287.63 281.29,287.83 282.56,288.03 283.82,288.23 285.09,288.42 286.35,288.62 287.61,288.81 288.88,289.00 290.14,289.19 291.41,289.38 292.67,289.57 293.94,289.75 295.20,289.94 296.46,290.12 297.73,290.30 298.99,290.48 300.26,290.66 301.52,290.84 302.78,291.02 304.05,291.19 305.31,291.37 306.58,291.54 307.84,291.71 309.11,291.88 310.37,292.05 311.63,292.22 312.90,292.39 314.16,292.55 315.43,292.72 316.69,292.88 317.96,293.05 319.22,293.21 320.48,293.37 321.75,293.53 323.01,293.69 324.28,293.85 325.54,294.00 326.80,294.16 328.07,294.31 329.33,294.47 330.60,294.62 331.86,294.77 333.13,294.92 334.39,295.07 335.65,295.22 336.92,295.37 338.18,295.51 339.45,295.66 340.71,295.81 341.98,295.95 343.24,296.09 344.50,296.24 345.77,296.38 347.03,296.52 348.30,296.66 349.56,296.80 350.82,296.93 352.09,297.07 353.35,297.21 354.62,297.34 355.88,297.48 357.15,297.61 358.41,297.75 359.67,297.88 360.94,298.01 362.20,298.14 363.47,298.27 364.73,298.40 366.00,298.53 367.26,298.66 368.52,298.78 369.79,298.91 371.05,299.04 372.32,299.16 373.58,299.29 374.84,299.41 376.11,299.53 377.37,299.66 378.64,299.78 379.90,299.90 381.17,300.02 382.43,300.14 383.69,300.26 384.96,300.37 386.22,300.49 387.49,300.61 388.75,300.73 390.02,300.84 391.28,300.96 392.54,301.07 393.81,301.18 395.07,301.30 396.34,301.41 397.60,301.52 398.86,301.63 400.13,301.74 401.39,301.85 402.66,301.96 403.92,302.07 405.19,302.18 406.45,302.29 407.71,302.40 408.98,302.50 410.24,302.61 411.51,302.72 412.77,302.82 414.04,302.93 415.30,303.03 416.56,303.13 417.83,303.24 419.09,303.34 420.36,303.44 421.62,303.54 422.88,303.64 424.15,303.74 425.41,303.84 426.68,303.94 427.94,304.04 429.21,304.14 430.47,304.24 431.73,304.34 433.00,304.43 434.26,304.53 435.53,304.63 436.79,304.72 438.06,304.82 439.32,304.91 440.58,305.01 441.85,305.10 443.11,305.19 444.38,305.29 445.64,305.38 446.91,305.47 448.17,305.56 449.43,305.65 450.70,305.75 451.96,305.84 453.23,305.93 454.49,306.02 455.75,306.10 457.02,306.19 458.28,306.28 459.55,306.37 460.81,306.46 462.08,306.54 463.34,306.63 464.60,306.72 465.87,306.80 467.13,306.89 468.40,306.97 469.66,307.06 470.93,307.14 472.19,307.23 473.45,307.31 474.72,307.39 475.98,307.48 477.25,307.56 478.51,307.64 479.77,307.72 481.04,307.81 482.30,307.89 483.57,307.97 484.83,308.05 486.10,308.13 487.36,308.21 488.62,308.29 489.89,308.37 491.15,308.45 492.42,308.52 493.68,308.60 494.95,308.68 496.21,308.76 497.47,308.83 498.74,308.91 500.00,308.99 501.27,309.06 502.53,309.14 503.79,309.22 505.06,309.29 506.32,309.37 507.59,309.44 508.85,309.51 510.12,309.59 511.38,309.66 512.64,309.74 513.91,309.81 515.17,309.88 516.44,309.95 517.70,310.03 518.97,310.10 520.23,310.17 521.49,310.24 522.76,310.31 524.02,310.38 525.29,310.45 526.55,310.52 527.81,310.59 529.08,310.66 530.34,310.73 531.61,310.80 532.87,310.87 534.14,310.94 535.40,311.01" stroke="#d62728"/>
<polyline points="62.90,362.89 62.90,360.90 62.97,355.46 63.03,352.57 63.09,350.33 63.15,348.44 63.21,346.76 63.27,345.25 63.33,343.86 63.39,342.56 63.45,341.34 63.51,340.19 63.57,339.09 63.63,338.05 63.69,337.04 63.75,336.08 63.81,335.15 63.87,334.25 63.93,333.38 63.99,332.53 64.05,331.71 64.11,330.91 64.17,330.13 64.23,329.36 64.30,328.62 64.36,327.89 64.42,327.18 64.48,326.48 64.54,325.80 64.60,325.12 64.66,324.46 64.72,323.82 64.78,323.18 64.84,322.55 64.90,321.94 64.96,321.33 65.02,320.73 65.08,320.15 65.14,319.56 65.20,318.99 65.26,318.43 65.49,316.34 65.72,314.35 65.96,312.44 66.19,310.60 66.42,308.84 66.65,307.13 66.88,305.48 67.11,303.88 67.34,302.32 67.57,300.81 67.80,299.34 68.03,297.91 68.26,296.51 68.50,295.15 68.73,293.81 68.96,292.51 69.19,291.23 69.42,289.98 69.65,288.75 69.88,287.55 70.11,286.37 70.34,285.21 70.57,284.07 70.80,282.95 71.04,281.84 71.27,280.76 71.50,279.69 71.73,278.64 71.96,277.61 72.19,276.59 72.42,275.58 72.65,274.59 72.88,273.62 73.11,272.65 73.34,271.70 73.58,270.77 73.81,269.84 74.04,268.93 74.27,268.02 74.50,267.13 74.73,266.25 74.96,265.38 75.19,264.52 75.42,263.67 75.65,262.83 75.88,262.00 76.12,261.17 76.35,260.36 76.58,259.56 76.81,258.76 77.04,257.97 77.27,257.19 77.50,256.42 77.73,255.65 77.96,254.90 78.19,254.15 78.42,253.40 78.66,252.67 78.89,251.94 79.12,251.22 79.35,250.50 79.58,249.80 79.81,249.09 80.04,248.40 80.27,247.71 80.50,247.02 80.73,246.35 80.97,245.67 81.20,245.01 81.43,244.35 81.66,243.69 81.89,243.04 82.12,242.40 82.35,241.76 82.58,241.12 82.81,240.49 83.04,239.87 83.27,239.25 83.51,238.63 83.74,238.02 83.97,237.42 84.20,236.82 84.43,236.22 84.66,235.63 84.89,235.04 85.12,234.46 85.35,233.88 85.58,233.30 85.81,232.73 86.05,232.16 86.28,231.60 86.51,231.04 86.74,230.49 86.97,229.94 87.20,229.39 87.43,228.84 87.66,228.30 87.89,227.77 88.12,227.24 88.35,226.71 88.59,226.18 88.82,225.66 89.05,225.14 89.28,224.62 89.51,224.11 89.74,223.60 89.97,223.10 90.20,222.59 90.43,222.09 90.66,221.60 90.89,221.10 91.13,220.61 91.36,220.12 91.59,219.64 91.82,219.16 92.05,218.68 92.28,218.20 92.51,217.73 92.74,217.26 92.97,216.79 93.20,216.33 93.43,215.87 93.67,215.41 93.90,214.95 94.13,214.50 94.36,214.05 94.59,213.60 94.82,213.15 95.05,212.71 95.28,212.27 95.51,211.83 95.74,211.39 95.97,210.96 96.21,210.53 96.44,210.10 96.67,209.67 96.90,209.25 97.13,208.82 97.36,208.40 97.59,207.98 97.82,207.57 98.05,207.16 98.28,206.74 98.52,206.34 98.75,205.93 98.98,205.52 99.21,205.12 99.44,204.72 99.67,204.32 99.90,203.93 100.13,203.53 100.36,203.14 100.59,202.75 100.82,202.36 101.06,201.97 101.29,201.59 101.52,201.21 101.75,200.83 101.98,200.45 102.21,200.07 102.44,199.70 102.67,199.32 102.90,198.95 103.13,198.58 103.36,198.21 103.60,197.85 103.83,197.48 104.06,197.12 104.29,196.76 104.52,196.40 104.75,196.04 104.98,195.69 105.21,195.33 105.44,194.98 105.67,194.63 105.90,194.28 106.14,193.93 106.37,193.59 106.60,193.24 106.83,192.90 107.06,192.56 107.29,192.22 107.52,191.88 107.75,191.55 107.98,191.21 108.21,190.88 108.44,190.55 108.68,190.22 108.91,189.89 109.14,189.56 109.37,189.23 109.60,188.91 109.83,188.59 110.06,188.26 110.29,187.94 110.52,187.62 110.75,187.31 110.98,186.99 111.22,186.68 111.45,186.36 111.68,186.05 111.91,185.74 112.14,185.43 112.37,185.12 112.60,184.82 112.83,184.51 113.06,184.21 113.29,183.90 113.53,183.60 113.76,183.30 113.99,183.00 114.22,182.71 114.45,182.41 114.68,182.11 114.91,181.82 115.14,181.53 115.37,181.24 115.60,180.95 115.83,180.66 116.07,180.37 116.30,180.08 116.53,179.80 116.76,179.51 116.99,179.23 117.22,178.95 117.45,178.66 117.68,178.39 117.91,178.11 118.14,177.83 118.37,177.55 118.61,177.28 118.84,177.00 119.07,176.73 119.30,176.46 119.53,176.19 119.76,175.92 119.99,175.65 120.22,175.38 120.45,175.11 120.68,174.85 120.91,174.58 121.15,174.32 121.38,174.06 121.61,173.79 121.84,173.53 122.07,173.27 122.30,173.02 122.53,172.76 122.76,172.50 122.99,172.25 123.22,171.99 123.45,171.74 123.69,171.49 123.92,171.23 124.15,170.98 124.38,170.73 124.61,170.48 124.84,170.24 125.07,169.99 125.30,169.74 125.53,169.50 125.76,169.25 125.99,169.01 126.23,168.77 126.46,168.53 126.69,168.29 126.92,168.05 127.15,167.81 127.38,167.57 127.61,167.33 127.84,167.10 128.07,166.86 128.30,166.63 128.53,166.39 128.77,166.16 129.00,165.93 129.23,165.70 129.46,165.47 129.69,165.24 129.92,165.01 130.15,164.78 130.38,164.55 130.61,164.33 130.84,164.10 131.08,163.88 131.31,163.65 131.54,163.43 131.77,163.21 132.00,162.99 132.23,162.77 132.46,162.55 132.69,162.33 132.92,162.11 133.15,161.89 133.38,161.68 133.62,161.46 133.85,161.25 134.08,161.03 134.31,160.82 134.54,160.61 134.77,160.39 135.00,160.18 135.23,159.97 135.46,159.76 135.69,159.55 135.92,159.34 136.16,159.14 136.39,158.93 136.62,158.72 136.85,158.52 137.08,158.31 137.31,158.11 137.54,157.90 137.77,157.70 138.00,157.50 138.23,157.30 138.46,157.10 138.70,156.90 138.93,156.70 139.16,156.50 139.39,156.30 139.62,156.10 139.85,155.91 140.08,155.71 140.31,155.52 140.54,155.32 140.77,155.13 141.00,154.93 141.24,154.74 141.47,154.55 141.70,154.36 141.93,154.17 142.16,153.98 142.39,153.79 142.62,153.60 142.85,153.41 143.08,153.22 143.31,153.03 143.54,152.85 143.78,152.66 144.01,152.48 144.24,152.29 144.47,152.11 144.70,151.92 144.93,151.74 145.16,151.56 145.39,151.38 145.62,151.20 145.85,151.01 146.08,150.83 146.32,150.66 146.55,150.48 146.78,150.30 147.01,150.12 147.24,149.94 147.47,149.77 147.70,149.59 147.93,149.42 148.16,149.24 148.39,149.07 148.62,148.89 148.86,148.72 149.09,148.55 149.32,148.38 149.55,148.20 149.78,148.03 150.01,147.86 150.24,147.69 150.47,147.52 150.70,147.36 150.93,147.19 151.17,147.02 151.40,146.85 151.63,146.69 151.86,146.52 152.09,146.35 152.32,146.19 152.55,146.02 152.78,145.86 153.01,145.70 153.24,145.53 153.47,145.37 153.71,145.21 153.94,145.05 154.17,144.89 154.40,144.73 154.63,144.57 154.86,144.41 155.09,144.25 155.32,144.09 155.55,143.93 155.78,143.77 156.01,143.62 156.25,143.46 156.48,143.30 156.71,143.15 156.94,142.99 157.17,142.84 157.40,142.68 158.66,141.85 159.93,141.02 161.19,140.22 162.46,139.42 163.72,138.64 164.99,137.87 166.25,137.11 167.51,136.36 168.78,135.63 170.04,134.90 171.31,134.19 172.57,133.49 173.83,132.80 175.10,132.12 176.36,131.46 177.63,130.80 178.89,130.15 180.16,129.51 181.42,128.88 182.68,128.26 183.95,127.65 185.21,127.05 186.48,126.46 187.74,125.88 189.01,125.30 190.27,124.74 191.53,124.18 192.80,123.63 194.06,123.09 195.33,122.55 196.59,122.03 197.85,121.51 199.12,121.00 200.38,120.49 201.65,120.00 202.91,119.51 204.18,119.02 205.44,118.55 206.70,118.08 207.97,117.61 209.23,117.16 210.50,116.71 211.76,116.26 213.03,115.82 214.29,115.39 215.55,114.97 216.82,114.55 218.08,114.13 219.35,113.72 220.61,113.32 221.87,112.92 223.14,112.53 224.40,112.14 225.67,111.76 226.93,111.39 228.20,111.02 229.46,110.65 230.72,110.29 231.99,109.93 233.25,109.58 234.52,109.23 235.78,108.89 237.05,108.55 238.31,108.22 239.57,107.89 240.84,107.56 242.10,107.24 243.37,106.93 244.63,106.61 245.89,106.31 247.16,106.00 248.42,105.70 249.69,105.41 250.95,105.11 252.22,104.83 253.48,104.54 254.74,104.26 256.01,103.98 257.27,103.71 258.54,103.44 259.80,103.17 261.07,102.91 262.33,102.65 263.59,102.39 264.86,102.14 266.12,101.89 267.39,101.64 268.65,101.40 269.92,101.16 271.18,100.92 272.44,100.69 273.71,100.46 274.97,100.23 276.24,100.00 277.50,99.78 278.76,99.56 280.03,99.34 281.29,99.13 282.56,98.92 283.82,98.71 285.09,98.51 286.35,98.30 287.61,98.10 288.88,97.90 290.14,97.71 291.41,97.52 292.67,97.33 293.94,97.14 295.20,96.95 296.46,96.77 297.73,96.59 298.99,96.41 300.26,96.23 301.52,96.06 302.78,95.89 304.05,95.72 305.31,95.55 306.58,95.39 307.84,95.22 309.11,95.06 310.37,94.90 311.63,94.75 312.90,94.59 314.16,94.44 315.43,94.29 316.69,94.14 317.96,93.99 319.22,93.85 320.48,93.71 321.75,93.57 323.01,93.43 324.28,93.29 325.54,93.15 326.80,93.02 328.07,92.89 329.33,92.76 330.60,92.63 331.86,92.50 333.13,92.38 334.39,92.25 335.65,92.13 336.92,92.01 338.18,91.89 339.45,91.78 340.71,91.66 341.98,91.55 343.24,91.44 344.50,91.33 345.77,91.22 347.03,91.11 348.30,91.00 349.56,90.90 350.82,90.79 352.09,90.69 353.35,90.59 354.62,90.49 355.88,90.39 357.15,90.30 358.41,90.20 359.67,90.11 360.94,90.02 362.20,89.93 363.47,89.84 364.73,89.75 366.00,89.66 367.26,89.57 368.52,89.49 369.79,89.41 371.05,89.32 372.32,89.24 373.58,89.16 374.84,89.08 376.11,89.01 377.37,88.93 378.64,88.85 379.90,88.78 381.17,88.71 382.43,88.64 383.69,88.56 384.96,88.49 386.22,88.43 387.49,88.36 388.75,88.29 390.02,88.23 391.28,88.16 392.54,88.10 393.81,88.04 395.07,87.97 396.34,87.91 397.60,87.85 398.86,87.80 400.13,87.74 401.39,87.68 402.66,87.62 403.92,87.57 405.19,87.52 406.45,87.46 407.71,87.41 408.98,87.36 410.24,87.31 411.51,87.26 412.77,87.21 414.04,87.16 415.30,87.12 416.56,87.07 417.83,87.02 419.09,86.98 420.36,86.94 421.62,86.89 422.88,86.85 424.15,86.81 425.41,86.77 426.68,86.73 427.94,86.69 429.21,86.65 430.47,86.62 431.73,86.58 433.00,86.54 434.26,86.51 435.53,86.47 436.79,86.44 438.06,86.41 439.32,86.37 440.58,86.34 441.85,86.31 443.11,86.28 444.38,86.25 445.64,86.22 446.91,86.19 448.17,86.17 449.43,86.14 450.70,86.11 451.96,86.09 453.23,86.06 454.49,86.04 455.75,86.01 457.02,85.99 458.28,85.97 459.55,85.94 460.81,85.92 462.08,85.90 463.34,85.88 464.60,85.86 465.87,85.84 467.13,85.82 468.40,85.81 469.66,85.79 470.93,85.77 472.19,85.76 473.45,85.74 474.72,85.72 475.98,85.71 477.25,85.70 478.51,85.68 479.77,85.67 481.04,85.66 482.30,85.64 483.57,85.63 484.83,85.62 486.10,85.61 487.36,85.60 488.62,85.59 489.89,85.58 491.15,85.57 492.42,85.56 493.68,85.56 494.95,85.55 496.21,85.54 497.47,85.54 498.74,85.53 500.00,85.53 501.27,85.52 502.53,85.52 503.79,85.51 505.06,85.51 506.32,85.50 507.59,85.50 508.85,85.50 510.12,85.50 511.38,85.50 512.64,85.49 513.91,85.49 515.17,85.49 516.44,85.49 517.70,85.49 518.97,85.49 520.23,85.50 521.49,85.50 522.76,85.50 524.02,85.50 525.29,85.50 526.55,85.51 527.81,85.51 529.08,85.51 530.34,85.52 531.61,85.52 532.87,85.53 534.14,85.53 535.40,85.54" stroke="#9467bd"/>
</g>
<path d="M58.28,362.90H62.90M58.28,304.17H62.90M58.28,245.43H62.90M58.28,186.70H62.90M58.28,127.97H62.90M58.28,69.23H62.90M58.28,10.50H62.90M157.40,362.90V367.52M251.90,362.90V367.52M346.40,362.90V367.52M440.90,362.90V367.52M535.40,362.90V367.52" stroke="#000" stroke-width="1.06" fill="none"/>
<path d="M60.26,351.15H62.90M60.26,339.41H62.90M60.26,327.66H62.90M60.26,315.91H62.90M60.26,292.42H62.90M60.26,280.67H62.90M60.26,268.93H62.90M60.26,257.18H62.90M60.26,233.69H62.90M60.26,221.94H62.90M60.26,210.19H62.90M60.26,198.45H62.90M60.26,174.95H62.90M60.26,163.21H62.90M60.26,151.46H62.90M60.26,139.71H62.90M60.26,116.22H62.90M60.26,104.47H62.90M60.26,92.73H62.90M60.26,80.98H62.90M60.26,57.49H62.90M60.26,45.74H62.90M60.26,33.99H62.90M60.26,22.25H62.90M81.80,362.90V365.54M100.70,362.90V365.54M119.60,362.90V365.54M138.50,362.90V365.54M176.30,362.90V365.54M195.20,362.90V365.54M214.10,362.90V365.54M233.00,362.90V365.54M270.80,362.90V365.54M289.70,362.90V365.54M308.60,362.90V365.54M327.50,362.90V365.54M365.30,362.90V365.54M384.20,362.90V365.54M403.10,362.90V365.54M422.00,362.90V365.54M459.80,362.90V365.54M478.70,362.90V365.54M497.60,362.90V365.54M516.50,362.90V365.54" stroke="#000" stroke-width="0.79" fill="none"/>
<rect x="62.9" y="10.5" width="472.50" height="352.40" fill="none" stroke="#000" stroke-width="1.11" stroke-linejoin="miter"/>
<text x="53.2" y="369.00" font-family="Liberation Serif, DejaVu Serif, serif" font-size="16" text-anchor="end">0.0</text>
<text x="53.2" y="310.27" font-family="Liberation Serif, DejaVu Serif, serif" font-size="16" text-anchor="end">0.2</text>
<text x="53.2" y="251.53" font-family="Liberation Serif, DejaVu Serif, serif" font-size="16" text-anchor="end">0.4</text>
<text x="53.2" y="192.80" font-family="Liberation Serif, DejaVu Serif, serif" font-size="16" text-anchor="end">0.6</text>
<text x="53.2" y="134.07" font-family="Liberation Serif, DejaVu Serif, serif" font-size="16" text-anchor="end">0.8</text>
<text x="53.2" y="75.33" font-family="Liberation Serif, DejaVu Serif, serif" font-size="16" text-anchor="end">1.0</text>
<text x="53.2" y="16.60" font-family="Liberation Serif, DejaVu Serif, serif" font-size="16" text-anchor="end">1.2</text>
<text x="156.90" y="383.8" font-family="Liberation Serif, DejaVu Serif, serif" font-size="16" text-anchor="middle">2</text>
<text x="251.40" y="383.8" font-family="Liberation Serif, DejaVu Serif, serif" font-size="16" text-anchor="middle">4</text>
<text x="345.90" y="383.8" font-family="Liberation Serif, DejaVu Serif, serif" font-size="16" text-anchor="middle">6</text>
<text x="440.40" y="383.8" font-family="Liberation Serif, DejaVu Serif, serif" font-size="16" text-anchor="middle">8</text>
<text x="534.60" y="383.8" font-family="Liberation Serif, DejaVu Serif, serif" font-size="16" text-anchor="middle" textLength="14.8" lengthAdjust="spacingAndGlyphs">10</text>
<g font-family="Liberation Serif, DejaVu Serif, serif" fill="#000"><text transform="translate(274.40,407.40) scale(1.141,1.065)" font-size="20.80" font-style="italic">R</text><text transform="translate(289.10,412.09) scale(1.442,1.486)" font-size="20.80">/</text><text transform="translate(300.40,407.40) scale(1.141,1.065)" font-size="20.80" font-style="italic">R</text><text transform="translate(312.37,410.51) scale(1.256,0.992)" font-size="14.60">0</text></g>
<g transform="translate(0,246.0) rotate(-90)" font-family="Liberation Serif, DejaVu Serif, serif" fill="#000"><text transform="translate(0.76,22.39) scale(1.053,0.992)" font-size="20.80" font-style="italic">v</text><text transform="translate(10.25,26.37) scale(1.027,0.913)" font-size="14.60" font-style="italic">c</text><text transform="translate(18.87,22.95) scale(0.999,1.111)" font-size="20.80">(</text><text transform="translate(26.80,22.60) scale(1.173,1.050)" font-size="20.80" font-style="italic">R</text><text transform="translate(42.43,22.95) scale(0.906,1.111)" font-size="20.80">)</text><text transform="translate(50.20,27.48) scale(1.494,1.515)" font-size="20.80">/</text><text transform="translate(60.17,22.30) scale(1.030,0.972)" font-size="20.80" font-style="italic">v</text><text transform="translate(69.44,26.17) scale(1.045,0.885)" font-size="14.60" font-style="italic">c</text><text transform="translate(78.37,22.95) scale(0.999,1.111)" font-size="20.80">(</text><text transform="translate(85.20,22.60) scale(1.173,1.050)" font-size="20.80" font-style="italic">R</text><text transform="translate(99.11,25.81) scale(1.174,1.002)" font-size="14.60">0</text><text transform="translate(108.92,22.95) scale(0.925,1.111)" font-size="20.80">)</text></g>
<rect x="345.0" y="128.6" width="183.0" height="115.80000000000001" rx="3.5" ry="3.5" fill="#fff" fill-opacity="0.8" stroke="#cccccc" stroke-opacity="0.8" stroke-width="1.32"/>
<line x1="350.2" y1="140.60" x2="383.6" y2="140.60" stroke="#1f77b4" stroke-width="1.98"/>
<text x="395.11" y="146.6" font-family="Liberation Sans, DejaVu Sans, sans-serif" font-size="16.3" textLength="62.93" lengthAdjust="spacingAndGlyphs" fill="#000">Combined</text>
<line x1="351.2" y1="162.70" x2="382.6" y2="162.70" stroke="#ff7f0e" stroke-width="1.98" stroke-dasharray="7.2,3.325"/>
<text x="395.11" y="168.7" font-family="Liberation Sans, DejaVu Sans, sans-serif" font-size="16.3" textLength="62.83" lengthAdjust="spacingAndGlyphs" fill="#000">Combined</text>
<text x="464.08" y="168.7" font-family="Liberation Sans, DejaVu Sans, sans-serif" font-size="16.3" textLength="5.20" lengthAdjust="spacingAndGlyphs" fill="#000">-</text>
<text x="473.83" y="168.7" font-family="Liberation Sans, DejaVu Sans, sans-serif" font-size="16.3" textLength="15.46" lengthAdjust="spacingAndGlyphs" fill="#000">no</text>
<text x="494.26" y="168.7" font-family="Liberation Sans, DejaVu Sans, sans-serif" font-size="16.3" textLength="26.07" lengthAdjust="spacingAndGlyphs" fill="#000">DM</text>
<line x1="350.2" y1="184.80" x2="383.6" y2="184.80" stroke="#2ca02c" stroke-width="1.98"/>
<text x="395.05" y="190.8" font-family="Liberation Sans, DejaVu Sans, sans-serif" font-size="16.3" textLength="28.02" lengthAdjust="spacingAndGlyphs" fill="#000">Disk</text>
<line x1="350.2" y1="206.80" x2="383.6" y2="206.80" stroke="#d62728" stroke-width="1.98"/>
<text x="394.95" y="212.8" font-family="Liberation Sans, DejaVu Sans, sans-serif" font-size="16.3" textLength="36.73" lengthAdjust="spacingAndGlyphs" fill="#000">Bulge</text>
<line x1="350.2" y1="228.90" x2="383.6" y2="228.90" stroke="#9467bd" stroke-width="1.98"/>
<text x="394.93" y="234.9" font-family="Liberation Sans, DejaVu Sans, sans-serif" font-size="16.3" textLength="33.37" lengthAdjust="spacingAndGlyphs" fill="#000">NFW</text>
<text x="433.94" y="234.9" font-family="Liberation Sans, DejaVu Sans, sans-serif" font-size="16.3" textLength="29.73" lengthAdjust="spacingAndGlyphs" fill="#000">Halo</text>
</svg></body></html>
